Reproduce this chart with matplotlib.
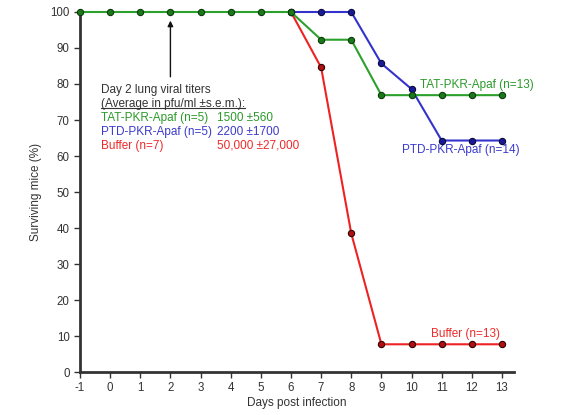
import matplotlib
matplotlib.use("Agg")
from matplotlib import pyplot as plt
from matplotlib.lines import Line2D

plt.rcParams['font.family'] = ['Liberation Sans', 'DejaVu Sans']
plt.rcParams['axes.unicode_minus'] = False

days = list(range(-1, 14))
tat = [100, 100, 100, 100, 100, 100, 100, 100, 92.3, 92.3, 76.9, 76.9, 76.9, 76.9, 76.9]
ptd_days = [6, 7, 8, 9, 10, 11, 12, 13]
ptd = [100, 100, 100, 85.7, 78.6, 64.3, 64.3, 64.3]
buf_days = [6, 7, 8, 9, 10, 11, 12, 13]
buf = [100, 84.6, 38.5, 7.7, 7.7, 7.7, 7.7, 7.7]

x_ticks = list(range(-1, 14))
y_ticks = list(range(0, 101, 10))

titer_rows = [
    ("TAT-PKR-Apaf (n=5)", "1500 \u00b1560", "#2a9a2a"),
    ("PTD-PKR-Apaf (n=5)", "2200 \u00b11700", "#3a3acc"),
    ("Buffer (n=7)", "50,000 \u00b127,000", "#ee2a2a"),
]

fig = plt.figure(figsize=(5.8, 4.15), dpi=100)
ax = fig.add_axes([80/580, 1 - 372/415, 434/580, 360/415])

ax.plot(buf_days, buf, color="#ee2222", lw=1.5, marker="o", ms=4.5,
        mfc="#b01010", mec="#300000", mew=0.8, clip_on=False, zorder=3)
ax.plot(ptd_days, ptd, color="#3333cc", lw=1.5, marker="o", ms=4.5,
        mfc="#1a1a99", mec="#0a0a40", mew=0.8, clip_on=False, zorder=4)
ax.plot(days, tat, color="#2ca02c", lw=1.5, marker="o", ms=4.5,
        mfc="#1a7a1a", mec="#0a3a0a", mew=0.8, clip_on=False, zorder=5)

ax.set_xlim(-1, 13.4)
ax.set_ylim(0, 100)
ax.set_xticks(x_ticks)
ax.set_yticks(y_ticks)
for s in ["top", "right"]:
    ax.spines[s].set_visible(False)
for s in ["left", "bottom"]:
    ax.spines[s].set_linewidth(2)
    ax.spines[s].set_color("#333333")
ax.tick_params(direction="out", length=4, width=1, colors="#333333", labelsize=8.3)
ax.set_xlabel("Days post infection", fontsize=8.5, color="#333333", labelpad=2)
ax.set_ylabel("Surviving mice (%)", fontsize=8.5, color="#333333", labelpad=6)

# series labels
ax.text(10.28, 79.7, "TAT-PKR-Apaf (n=13)", color="#2a9a2a", fontsize=8.5, va="center")
ax.text(9.7, 61.7, "PTD-PKR-Apaf (n=14)", color="#3a3acc", fontsize=8.5, va="center")
ax.text(12.95, 10.6, "Buffer (n=13)", color="#ee2a2a", fontsize=8.5, va="center", ha="right")

# titer box
ax.annotate("", xy=(2, 97.6), xytext=(2, 82),
            arrowprops=dict(arrowstyle="-|>", color="#111111", lw=1,
                            mutation_scale=8, shrinkA=0, shrinkB=0))
ax.text(-0.3, 78.3, "Day 2 lung viral titers", fontsize=8.5, color="#333333", va="center")
hdr = ax.text(-0.3, 74.4, "(Average in pfu/ml \u00b1s.e.m.):", fontsize=8.5,
              color="#333333", va="center")
ys = [70.6, 66.8, 62.9]
for (name, val, col), yv in zip(titer_rows, ys):
    ax.text(-0.3, yv, name, fontsize=8.5, color=col, va="center")
    ax.text(3.55, yv, val, fontsize=8.5, color=col, va="center")

# underline the header
fig.canvas.draw()
bb = hdr.get_window_extent(fig.canvas.get_renderer())
bbf = bb.transformed(fig.transFigure.inverted())
fig.add_artist(Line2D([bbf.x0, bbf.x1], [bbf.y0 + 0.004, bbf.y0 + 0.004],
                      color="#333333", lw=0.8, transform=fig.transFigure))

fig.savefig("out.png", dpi=100, facecolor="white")
